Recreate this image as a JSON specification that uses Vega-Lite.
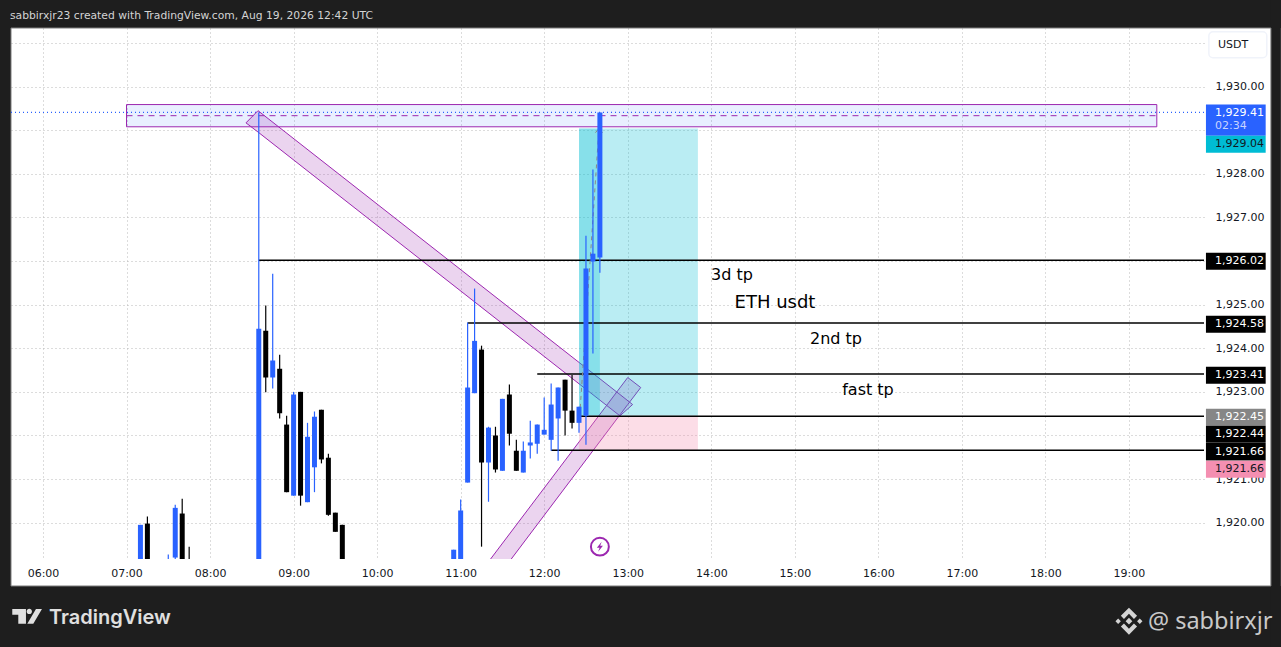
{
  "$schema": "https://vega.github.io/schema/vega-lite/v6.json",
  "width": 1193,
  "height": 531,
  "autosize": "none",
  "padding": {"left": 11, "top": 28, "right": 77, "bottom": 88},
  "background": "#ffffff",
  "view": {"stroke": null},
  "encoding": {
    "x": {
      "field": "t",
      "type": "temporal",
      "title": null,
      "scale": {"type": "utc", "padding": 0, "domain": [{"year": 2026, "month": 8, "date": 19, "hours": 5, "minutes": 37, "seconds": 2, "utc": true}, {"year": 2026, "month": 8, "date": 19, "hours": 19, "minutes": 53, "seconds": 54, "utc": true}]},
      "axis": {
        "format": "%H:%M",
        "values": [
          {"year": 2026, "month": 8, "date": 19, "hours": 6, "utc": true},
          {"year": 2026, "month": 8, "date": 19, "hours": 7, "utc": true},
          {"year": 2026, "month": 8, "date": 19, "hours": 8, "utc": true},
          {"year": 2026, "month": 8, "date": 19, "hours": 9, "utc": true},
          {"year": 2026, "month": 8, "date": 19, "hours": 10, "utc": true},
          {"year": 2026, "month": 8, "date": 19, "hours": 11, "utc": true},
          {"year": 2026, "month": 8, "date": 19, "hours": 12, "utc": true},
          {"year": 2026, "month": 8, "date": 19, "hours": 13, "utc": true},
          {"year": 2026, "month": 8, "date": 19, "hours": 14, "utc": true},
          {"year": 2026, "month": 8, "date": 19, "hours": 15, "utc": true},
          {"year": 2026, "month": 8, "date": 19, "hours": 16, "utc": true},
          {"year": 2026, "month": 8, "date": 19, "hours": 17, "utc": true},
          {"year": 2026, "month": 8, "date": 19, "hours": 18, "utc": true},
          {"year": 2026, "month": 8, "date": 19, "hours": 19, "utc": true}
        ],
        "domain": false,
        "ticks": false,
        "labelPadding": 8,
        "labelFont": "DejaVu Sans",
        "labelFontSize": 11,
        "labelColor": "#131722",
        "labelAngle": 0,
        "gridColor": "#b8b8b8",
        "gridDash": [1, 3],
        "gridWidth": 1
      }
    },
    "y": {
      "field": "p",
      "type": "quantitative",
      "title": null,
      "scale": {"domain": [1919.167, 1931.346], "zero": false, "nice": false},
      "axis": {
        "orient": "right",
        "values": [1920, 1921, 1922, 1923, 1924, 1925, 1926, 1927, 1928, 1929, 1930, 1931],
        "labelExpr": "indexof([1922, 1926, 1929, 1931], datum.value) >= 0 ? '' : format(datum.value, ',.2f')",
        "domain": false,
        "ticks": false,
        "labelPadding": 11,
        "labelFont": "DejaVu Sans",
        "labelFontSize": 11,
        "labelColor": "#131722",
        "gridColor": "#b8b8b8",
        "gridDash": [1, 3],
        "gridWidth": 1
      }
    }
  },
  "layer": [
    {
      "mark": {"type": "rect", "fill": "#1e1e1e"},
      "data": {"values": [
        {"t": "2026-08-19T05:29:07Z", "t2": "2026-08-19T20:49:08Z", "p": 1932.0, "p2": 1931.346},
        {"t": "2026-08-19T05:29:07Z", "t2": "2026-08-19T20:49:08Z", "p": 1918.548, "p2": 1917.1},
        {"t": "2026-08-19T05:29:07Z", "t2": "2026-08-19T05:37:02Z", "p": 1932.0, "p2": 1917.1},
        {"t": "2026-08-19T20:41:58Z", "t2": "2026-08-19T20:49:08Z", "p": 1932.0, "p2": 1917.1}
      ]},
      "encoding": {"x2": {"field": "t2"}, "y2": {"field": "p2"}}
    },
    {
      "mark": {"type": "rect", "fill": null, "stroke": "#7d7d7d", "strokeWidth": 1},
      "data": {"values": [{"t": "2026-08-19T05:37:02Z", "t2": "2026-08-19T20:41:58Z", "p": 1931.346, "p2": 1918.548}]},
      "encoding": {"x2": {"field": "t2"}, "y2": {"field": "p2"}}
    },
    {
      "mark": {"type": "rect", "fill": "#ffffff", "stroke": "#f0f3fa", "strokeWidth": 1.5, "cornerRadius": 4},
      "data": {"values": [{"t": "2026-08-19T19:57:24Z", "t2": "2026-08-19T20:39:00Z", "p": 1931.26, "p2": 1930.665}]},
      "encoding": {"x2": {"field": "t2"}, "y2": {"field": "p2"}}
    },
    {
      "mark": {"type": "rect", "fill": "#2962ff", "fillOpacity": 0.1, "stroke": "#9c27b0", "strokeWidth": 1},
      "data": {"values": [{"t": "2026-08-19T07:00:00Z", "t2": "2026-08-19T19:20:00Z", "p": 1929.59, "p2": 1929.08}]},
      "encoding": {"x2": {"field": "t2"}, "y2": {"field": "p2"}}
    },
    {
      "mark": {"type": "rule", "color": "#9c27b0", "strokeWidth": 1, "strokeDash": [6, 5]},
      "data": {"values": [{"t": "2026-08-19T07:00:00Z", "t2": "2026-08-19T19:20:00Z", "p": 1929.335}]},
      "encoding": {"x2": {"field": "t2"}}
    },
    {
      "mark": {"type": "rule", "color": "#2962ff", "strokeWidth": 1.3, "strokeDash": [1, 3]},
      "data": {"values": [{"t": "2026-08-19T05:37:02Z", "t2": "2026-08-19T19:53:54Z", "p": 1929.41}]},
      "encoding": {"x2": {"field": "t2"}}
    },
    {
      "mark": {"type": "area", "clip": true, "fill": "#9c27b0", "fillOpacity": 0.2, "stroke": "#9c27b0", "strokeWidth": 1},
      "data": {"values": [
        {"band": "down", "t": "2026-08-19T08:25:48Z", "p": 1929.17, "p2": 1929.17},
        {"band": "down", "t": "2026-08-19T08:34:26Z", "p": 1929.45, "p2": 1928.96},
        {"band": "down", "t": "2026-08-19T12:54:24Z", "p": 1922.94, "p2": 1922.45},
        {"band": "down", "t": "2026-08-19T13:03:30Z", "p": 1922.71, "p2": 1922.71},
        {"band": "up", "t": "2026-08-19T10:58:56Z", "p": 1918.21, "p2": 1918.21},
        {"band": "up", "t": "2026-08-19T11:13:45Z", "p": 1918.84, "p2": 1918.21},
        {"band": "up", "t": "2026-08-19T13:00:00Z", "p": 1923.33, "p2": 1922.71},
        {"band": "up", "t": "2026-08-19T13:09:20Z", "p": 1923.1, "p2": 1923.1}
      ]},
      "encoding": {"y2": {"field": "p2"}, "detail": {"field": "band"}}
    },
    {
      "mark": {"type": "rect"},
      "data": {"values": [
        {"kind": "target", "t": "2026-08-19T12:25:00Z", "t2": "2026-08-19T13:50:24Z", "p": 1929.04, "p2": 1922.45},
        {"kind": "target", "t": "2026-08-19T12:25:00Z", "t2": "2026-08-19T12:40:00Z", "p": 1929.04, "p2": 1922.45},
        {"kind": "stop", "t": "2026-08-19T12:25:00Z", "t2": "2026-08-19T13:50:24Z", "p": 1922.45, "p2": 1921.66},
        {"kind": "last", "t": "2026-08-19T19:55:18Z", "t2": "2026-08-19T20:38:12Z", "p": 1929.59, "p2": 1928.876},
        {"kind": "targetTag", "t": "2026-08-19T19:55:18Z", "t2": "2026-08-19T20:38:12Z", "p": 1928.876, "p2": 1928.486},
        {"kind": "line", "t": "2026-08-19T19:55:18Z", "t2": "2026-08-19T20:38:12Z", "p": 1926.193, "p2": 1925.803},
        {"kind": "line", "t": "2026-08-19T19:55:18Z", "t2": "2026-08-19T20:38:12Z", "p": 1924.748, "p2": 1924.358},
        {"kind": "line", "t": "2026-08-19T19:55:18Z", "t2": "2026-08-19T20:38:12Z", "p": 1923.578, "p2": 1923.188},
        {"kind": "entry", "t": "2026-08-19T19:55:18Z", "t2": "2026-08-19T20:38:12Z", "p": 1922.615, "p2": 1922.225},
        {"kind": "line", "t": "2026-08-19T19:55:18Z", "t2": "2026-08-19T20:38:12Z", "p": 1922.225, "p2": 1921.835},
        {"kind": "line", "t": "2026-08-19T19:55:18Z", "t2": "2026-08-19T20:38:12Z", "p": 1921.825, "p2": 1921.429},
        {"kind": "stopTag", "t": "2026-08-19T19:55:18Z", "t2": "2026-08-19T20:38:12Z", "p": 1921.42, "p2": 1921.03}
      ]},
      "encoding": {
        "x2": {"field": "t2"},
        "y2": {"field": "p2"},
        "color": {
          "field": "kind",
          "type": "nominal",
          "legend": null,
          "scale": {
            "domain": ["target", "stop", "last", "targetTag", "line", "entry", "stopTag"],
            "range": ["rgba(0,188,212,0.27)", "rgba(245,143,175,0.3)", "#2962ff", "#00bcd4", "#000000", "#868686", "#f48fb1"]
          }
        }
      }
    },
    {
      "mark": {"type": "rule", "color": "#000000", "strokeWidth": 1.4},
      "data": {"values": [
        {"t": "2026-08-19T08:35:00Z", "t2": "2026-08-19T19:53:54Z", "p": 1926.02},
        {"t": "2026-08-19T11:05:00Z", "t2": "2026-08-19T19:53:54Z", "p": 1924.58},
        {"t": "2026-08-19T11:55:00Z", "t2": "2026-08-19T19:53:54Z", "p": 1923.41},
        {"t": "2026-08-19T12:25:00Z", "t2": "2026-08-19T19:53:54Z", "p": 1922.44},
        {"t": "2026-08-19T12:05:00Z", "t2": "2026-08-19T19:53:54Z", "p": 1921.66}
      ]},
      "encoding": {"x2": {"field": "t2"}}
    },
    {
      "mark": {"type": "line", "color": "#8a8a8a", "strokeWidth": 1, "strokeDash": [4, 4], "clip": true},
      "data": {"values": [
        {"path": "route", "t": "2026-08-19T12:25:30Z", "p": 1922.45},
        {"path": "route", "t": "2026-08-19T12:39:20Z", "p": 1929.04}
      ]},
      "encoding": {"detail": {"field": "path"}}
    },
    {
      "mark": {"type": "line", "color": "#8a8a8a", "strokeWidth": 1, "clip": true},
      "data": {"values": [
        {"path": "head", "t": "2026-08-19T12:36:49Z", "p": 1928.945},
        {"path": "head", "t": "2026-08-19T12:39:20Z", "p": 1929.04},
        {"path": "head", "t": "2026-08-19T12:41:51Z", "p": 1928.945}
      ]},
      "encoding": {"detail": {"field": "path"}}
    },
    {
      "data": {"name": "candles", "values": [
        {"t": "2026-08-19T07:10:00Z", "open": 1919.0, "high": 1919.95, "low": 1918.9, "close": 1919.95},
        {"t": "2026-08-19T07:15:00Z", "open": 1919.98, "high": 1920.14, "low": 1918.9, "close": 1919.0},
        {"t": "2026-08-19T07:30:00Z", "open": 1918.9, "high": 1919.27, "low": 1918.8, "close": 1919.1},
        {"t": "2026-08-19T07:35:00Z", "open": 1919.2, "high": 1920.41, "low": 1919.05, "close": 1920.34},
        {"t": "2026-08-19T07:40:00Z", "open": 1920.21, "high": 1920.55, "low": 1918.9, "close": 1919.0},
        {"t": "2026-08-19T07:45:00Z", "open": 1919.1, "high": 1919.45, "low": 1918.8, "close": 1918.9},
        {"t": "2026-08-19T08:35:00Z", "open": 1918.9, "high": 1929.41, "low": 1918.8, "close": 1924.45},
        {"t": "2026-08-19T08:40:00Z", "open": 1924.4, "high": 1924.98, "low": 1922.99, "close": 1923.33},
        {"t": "2026-08-19T08:45:00Z", "open": 1923.33, "high": 1925.71, "low": 1923.08, "close": 1923.72},
        {"t": "2026-08-19T08:50:00Z", "open": 1923.53, "high": 1923.85, "low": 1922.39, "close": 1922.51},
        {"t": "2026-08-19T08:55:00Z", "open": 1922.25, "high": 1922.45, "low": 1920.7, "close": 1920.7},
        {"t": "2026-08-19T09:00:00Z", "open": 1920.62, "high": 1923.0, "low": 1920.62, "close": 1922.94},
        {"t": "2026-08-19T09:05:00Z", "open": 1923.0, "high": 1923.0, "low": 1920.39, "close": 1920.62},
        {"t": "2026-08-19T09:10:00Z", "open": 1920.47, "high": 1922.29, "low": 1920.47, "close": 1921.97},
        {"t": "2026-08-19T09:15:00Z", "open": 1921.27, "high": 1922.55, "low": 1920.7, "close": 1922.43},
        {"t": "2026-08-19T09:20:00Z", "open": 1922.59, "high": 1922.59, "low": 1921.36, "close": 1921.45},
        {"t": "2026-08-19T09:25:00Z", "open": 1921.49, "high": 1921.58, "low": 1920.16, "close": 1920.18},
        {"t": "2026-08-19T09:30:00Z", "open": 1920.23, "high": 1920.23, "low": 1919.79, "close": 1919.79},
        {"t": "2026-08-19T09:35:00Z", "open": 1919.95, "high": 1919.95, "low": 1919.0, "close": 1919.0},
        {"t": "2026-08-19T10:55:00Z", "open": 1919.0, "high": 1919.38, "low": 1919.0, "close": 1919.38},
        {"t": "2026-08-19T11:00:00Z", "open": 1919.0, "high": 1920.53, "low": 1918.9, "close": 1920.28},
        {"t": "2026-08-19T11:05:00Z", "open": 1920.92, "high": 1924.59, "low": 1920.92, "close": 1923.1},
        {"t": "2026-08-19T11:10:00Z", "open": 1922.97, "high": 1925.37, "low": 1922.97, "close": 1924.17},
        {"t": "2026-08-19T11:15:00Z", "open": 1923.97, "high": 1924.06, "low": 1919.45, "close": 1921.38},
        {"t": "2026-08-19T11:20:00Z", "open": 1921.38, "high": 1922.2, "low": 1920.48, "close": 1922.18},
        {"t": "2026-08-19T11:25:00Z", "open": 1922.0, "high": 1922.2, "low": 1921.15, "close": 1921.22},
        {"t": "2026-08-19T11:30:00Z", "open": 1921.19, "high": 1922.84, "low": 1921.19, "close": 1922.84},
        {"t": "2026-08-19T11:35:00Z", "open": 1922.94, "high": 1923.17, "low": 1921.77, "close": 1922.04},
        {"t": "2026-08-19T11:40:00Z", "open": 1921.65, "high": 1921.9, "low": 1921.19, "close": 1921.19},
        {"t": "2026-08-19T11:45:00Z", "open": 1921.15, "high": 1921.86, "low": 1921.15, "close": 1921.65},
        {"t": "2026-08-19T11:50:00Z", "open": 1921.77, "high": 1922.34, "low": 1921.47, "close": 1921.84},
        {"t": "2026-08-19T11:55:00Z", "open": 1921.81, "high": 1922.25, "low": 1921.58, "close": 1922.25},
        {"t": "2026-08-19T12:00:00Z", "open": 1922.02, "high": 1922.87, "low": 1922.02, "close": 1922.13},
        {"t": "2026-08-19T12:05:00Z", "open": 1921.9, "high": 1923.19, "low": 1921.65, "close": 1922.71},
        {"t": "2026-08-19T12:10:00Z", "open": 1922.39, "high": 1923.1, "low": 1921.42, "close": 1923.1},
        {"t": "2026-08-19T12:15:00Z", "open": 1923.28, "high": 1923.28, "low": 1922.0, "close": 1922.57},
        {"t": "2026-08-19T12:20:00Z", "open": 1922.57, "high": 1923.39, "low": 1922.16, "close": 1922.29},
        {"t": "2026-08-19T12:25:00Z", "open": 1922.29, "high": 1922.66, "low": 1922.06, "close": 1922.66},
        {"t": "2026-08-19T12:30:00Z", "open": 1922.45, "high": 1926.58, "low": 1921.79, "close": 1925.83},
        {"t": "2026-08-19T12:35:00Z", "open": 1925.99, "high": 1928.1, "low": 1923.88, "close": 1926.17},
        {"t": "2026-08-19T12:40:00Z", "open": 1926.08, "high": 1929.41, "low": 1925.73, "close": 1929.41}
      ]},
      "layer": [
        {
          "mark": {"type": "rule", "clip": true, "strokeWidth": 1.2},
          "encoding": {
            "y": {"field": "low", "type": "quantitative", "title": null},
            "y2": {"field": "high"},
            "color": {"condition": {"test": "datum.close >= datum.open", "value": "#2962ff"}, "value": "#000000"}
          }
        },
        {
          "mark": {"type": "bar", "clip": true, "size": 5, "orient": "vertical"},
          "encoding": {
            "y": {"field": "open", "type": "quantitative", "title": null},
            "y2": {"field": "close"},
            "color": {"condition": {"test": "datum.close >= datum.open", "value": "#2962ff"}, "value": "#000000"}
          }
        }
      ]
    },
    {
      "mark": {"type": "text", "align": "left", "baseline": "middle", "font": "DejaVu Sans", "fontSize": 11},
      "data": {"values": [
        {"label": "1,929.41", "ink": "light", "t": "2026-08-19T20:01:50Z", "p": 1929.4},
        {"label": "02:34", "ink": "soft", "t": "2026-08-19T20:01:50Z", "p": 1929.09},
        {"label": "1,929.04", "ink": "dark", "t": "2026-08-19T20:01:50Z", "p": 1928.68},
        {"label": "1,926.02", "ink": "light", "t": "2026-08-19T20:01:50Z", "p": 1926.0},
        {"label": "1,924.58", "ink": "light", "t": "2026-08-19T20:01:50Z", "p": 1924.553},
        {"label": "1,923.41", "ink": "light", "t": "2026-08-19T20:01:50Z", "p": 1923.383},
        {"label": "1,922.45", "ink": "light", "t": "2026-08-19T20:01:50Z", "p": 1922.42},
        {"label": "1,922.44", "ink": "light", "t": "2026-08-19T20:01:50Z", "p": 1922.03},
        {"label": "1,921.66", "ink": "light", "t": "2026-08-19T20:01:50Z", "p": 1921.627},
        {"label": "1,921.66", "ink": "dark", "t": "2026-08-19T20:01:50Z", "p": 1921.225},
        {"label": "USDT", "ink": "dark", "t": "2026-08-19T20:03:54Z", "p": 1930.96}
      ]},
      "encoding": {
        "text": {"field": "label"},
        "color": {
          "condition": [
            {"test": "datum.ink == 'dark'", "value": "#131722"},
            {"test": "datum.ink == 'soft'", "value": "#c8d4ff"}
          ],
          "value": "#ffffff"
        }
      }
    },
    {
      "mark": {"type": "text", "align": "center", "baseline": "middle", "font": "DejaVu Sans", "fontSize": 16, "color": "#000000"},
      "data": {"values": [
        {"label": "3d tp", "t": "2026-08-19T14:14:51Z", "p": 1925.69},
        {"label": "2nd tp", "t": "2026-08-19T15:29:34Z", "p": 1924.22},
        {"label": "fast tp", "t": "2026-08-19T15:52:33Z", "p": 1923.05}
      ]},
      "encoding": {"text": {"field": "label"}}
    },
    {
      "mark": {"type": "text", "align": "center", "baseline": "middle", "font": "DejaVu Sans", "fontSize": 18, "color": "#000000"},
      "data": {"values": [{"label": "ETH usdt", "t": "2026-08-19T14:45:45Z", "p": 1925.05}]},
      "encoding": {"text": {"field": "label"}}
    },
    {
      "mark": {"type": "point", "filled": false, "shape": "circle", "size": 320, "opacity": 1, "stroke": "#9c27b0", "strokeWidth": 2},
      "data": {"values": [{"t": "2026-08-19T12:40:00Z", "p": 1919.45}]}
    },
    {
      "mark": {"type": "point", "filled": true, "size": 260, "opacity": 1, "color": "#9c27b0", "shape": "M0.22,-0.62L-0.38,0.12L-0.04,0.12L-0.22,0.62L0.38,-0.12L0.04,-0.12Z"},
      "data": {"values": [{"t": "2026-08-19T12:40:00Z", "p": 1919.45}]}
    },
    {
      "mark": {"type": "text", "align": "left", "baseline": "middle", "font": "DejaVu Sans", "fontSize": 10.75, "color": "#d4d4d4"},
      "data": {"values": [{"label": "sabbirxjr23 created with TradingView.com, Aug 19, 2026 12:42 UTC", "t": "2026-08-19T05:36:18Z", "p": 1931.628}]},
      "encoding": {"text": {"field": "label"}}
    },
    {
      "mark": {"type": "text", "align": "left", "baseline": "middle", "font": "Inter", "fontWeight": 600, "fontSize": 20, "color": "#e0e0e0"},
      "data": {"values": [{"label": "TradingView", "t": "2026-08-19T06:04:19Z", "p": 1917.82}]},
      "encoding": {"text": {"field": "label"}}
    },
    {
      "mark": {"type": "point", "filled": true, "size": 900, "opacity": 1, "color": "#e0e0e0", "shape": "M-0.98,-0.49L-0.067,-0.49L-0.067,0.487L-0.578,0.487L-0.578,-0.113L-0.98,-0.113ZM-0.022,-0.335a0.178,0.178 0 1,0 0.356,0a0.178,0.178 0 1,0 -0.356,0ZM0.6,-0.49L1,-0.49L0.422,0.487L0.022,0.487Z"},
      "data": {"values": [{"t": "2026-08-19T05:48:30Z", "p": 1917.85}]}
    },
    {
      "mark": {"type": "point", "filled": true, "size": 729, "opacity": 1, "color": "#d4d4d4", "shape": "M0,-0.25L0.25,0L0,0.25L-0.25,0ZM-1,0L-0.8,-0.2L-0.6,0L-0.8,0.2ZM1,0L0.8,-0.2L0.6,0L0.8,0.2ZM0,-1L0.6,-0.4L0.37,-0.17L0,-0.55L-0.37,-0.17L-0.6,-0.4ZM0,1L0.6,0.4L0.37,0.17L0,0.55L-0.37,0.17L-0.6,0.4Z"},
      "data": {"values": [{"t": "2026-08-19T19:00:00Z", "p": 1917.74}]}
    },
    {
      "mark": {"type": "text", "align": "left", "baseline": "middle", "font": "Noto Sans", "fontSize": 23.5, "color": "#c8c8c8"},
      "data": {"values": [{"label": "@ sabbirxjr", "t": "2026-08-19T19:13:36Z", "p": 1917.73}]},
      "encoding": {"text": {"field": "label"}}
    }
  ]
}
